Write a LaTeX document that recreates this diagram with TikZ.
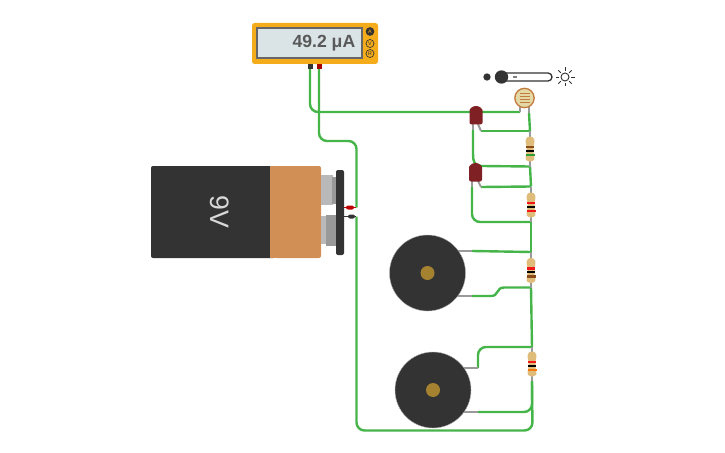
\documentclass[tikz,border=0pt]{standalone}
\usepackage{fontspec}
\setmainfont{Liberation Sans}
\definecolor{wiregreen}{HTML}{45B449}
\definecolor{leadgray}{HTML}{9A9A9A}
\definecolor{bodydark}{HTML}{333333}
\definecolor{battorange}{HTML}{D18E55}
\definecolor{meterorange}{HTML}{F5AC1B}
\definecolor{meterscreen}{HTML}{DAE3E6}
\definecolor{ledred}{HTML}{7F2024}
\definecolor{restan}{HTML}{E0BC7A}
\definecolor{brassdot}{HTML}{A5822F}
\definecolor{ldrface}{HTML}{E3D9A5}
\definecolor{ldrrim}{HTML}{C47A3F}
\definecolor{bandgreen}{HTML}{2E9E3C}
\definecolor{bandbrown}{HTML}{8A4B1C}
\definecolor{bandred}{HTML}{F01818}
\definecolor{bandorange}{HTML}{F57A10}
\tikzset{
	wire/.style={draw=wiregreen,line width=1.8pt,rounded corners=6pt},
	lead/.style={draw=leadgray,line width=1.5pt},
	buzzerbody/.style={circle,fill=bodydark,draw=gray!60,line width=.3pt,minimum size=57pt,inner sep=0pt},
	buzzerdot/.style={circle,fill=brassdot,minimum size=10.5pt,inner sep=0pt},
	knob/.style={circle,inner sep=0pt},
}
% one resistor: centre, then three bands
\newcommand{\resistor}[4]{
	\begin{scope}[shift={(#1)}]
		\fill[restan,rounded corners=2pt] (-3,-12.5) -- (3,-12.5) -- (5,-8) -- (3.5,-4) -- (3.5,5) -- (5,9) -- (3,12.5) -- (-3,12.5) -- (-5,9) -- (-3.5,5) -- (-3.5,-4) -- (-5,-8) -- cycle;
		\fill[#2] (-4,-3.5) rectangle (4,-1);
		\fill[#3] (-4,.5) rectangle (4,2.5);
		\fill[#4] (-4.5,4.5) rectangle (4.5,7);
	\end{scope}
}
\begin{document}
\begin{tikzpicture}[x=.75pt,y=-.75pt]
	\useasboundingbox (0,0) rectangle (725,453);
	\coordinate (mN) at (310,69);% meter black lead
	\coordinate (mP) at (319,69);% meter red lead
	\coordinate (batP) at (356.5,207.5);
	\coordinate (batN) at (356.5,216.5);
	\coordinate (ldrA) at (520,112);
	\coordinate (ldrB) at (529,113);
	\coordinate (ledAa) at (473,130);
	\coordinate (ledAc) at (481,131);
	\coordinate (ledBa) at (472,187);
	\coordinate (ledBc) at (481,187);
	\coordinate (resAt) at (530,131);
	\coordinate (resAb) at (530,166.5);
	\coordinate (resBt) at (531,186.5);
	\coordinate (resBb) at (531,222);
	\coordinate (resCt) at (531,252);
	\coordinate (resCb) at (531,287.5);
	\coordinate (resDt) at (532,347);
	\coordinate (resDb) at (532,381);
	\coordinate (buzAt) at (472,251);
	\coordinate (buzAb) at (472,296);
	\coordinate (buzBt) at (478,368);
	\coordinate (buzBb) at (478,412);

	% wires
	\draw[wire] (mN) |- (ldrA);
	\draw[wire] (mP) -- (319,141) -- (356.5,141) -- (batP);
	\draw[wire] (batN) -- (356.5,430.5) -- (532.5,430.5) -- (resDb);
	\draw[wire] (ledAc) -- (resAt);
	\draw[wire] (ldrB) -- (resAt);
	\draw[wire,sharp corners] (ledAa) -- (473,154) .. controls (473,161) and (474,166) .. (482,166) -- (resAb);
	\draw[wire] (resAb) -- (resBt);
	\draw[wire] (ledBc) -- (resBt);
	\draw[wire] (ledBa) |- (resBb);
	\draw[wire] (resBb) -- (resCt);
	\draw[wire] (buzAt) -- (resCt);
	\draw[wire,sharp corners] (buzAb) -- (491,296) .. controls (499,296) and (496,287.5) .. (504,287.5) -- (resCb);
	\draw[wire] (resCb) -- (resDt);
	\draw[wire] (buzBt) |- (resDt);
	\draw[wire] (buzBb) -| (resDb);

	% resistor leads
	\foreach \a/\b in {resAt/resAb,resBt/resBb,resCt/resCb,resDt/resDb}
		\draw[lead] (\a) -- (\b);
	\resistor{530,149}{bandbrown}{black}{bandgreen}
	\resistor{531,205}{bandred}{black}{bandred}
	\resistor{531,270.5}{bandred}{black}{bandbrown}
	\resistor{532,364}{bandred}{black}{bandorange}

	% meter
	\fill[meterorange,rounded corners=2pt] (252,23) rectangle (378,64);
	\draw[fill=meterscreen,draw=gray!80!black,line width=1.3pt] (257,28) rectangle (362,58);
	\node[anchor=east,text=black!65,font=\bfseries\fontsize{13.2}{14}\selectfont,inner sep=0pt] (readout) at (355.5,43) {49.2 μA};
	\node[knob,fill=bodydark,minimum size=6.5pt,text=meterorange,font=\fontsize{4}{4}\selectfont] (btnA) at (370,31.5) {A};
	\node[knob,draw=bodydark,line width=.5pt,minimum size=6pt,text=bodydark,font=\fontsize{4}{4}\selectfont] (btnV) at (370,43.5) {V};
	\node[knob,draw=bodydark,line width=.5pt,minimum size=6pt,text=bodydark,font=\fontsize{4}{4}\selectfont] (btnR) at (370,53.5) {R};
	\fill[bodydark] (308,64) rectangle (313,69);
	\fill[red!65!black] (317,64) rectangle (322,69);

	% battery
	\fill[bodydark,rounded corners=1.5pt] (151,166) rectangle (275,258);
	\fill[battorange,rounded corners=1.5pt] (275,166) rectangle (321,258);
	\fill[battorange] (270,166) rectangle (276,258);
	\fill[gray!55] (321,175) rectangle (333,205);
	\fill[gray!80] (332,177) rectangle (336,204);
	\fill[gray!55] (321,216) rectangle (327,244);
	\fill[gray!80] (326,215) rectangle (336,246);
	\fill[bodydark,rounded corners=1.5pt] (336,170) rectangle (344,255);
	\node[rotate=-90,text=gray!30,font=\fontsize{20}{20}\selectfont,inner sep=0pt] (volts) at (220,212) {9V};
	\draw[red!75!black,line width=.8pt] (344,207.5) -- (356,207.5);
	\fill[red!75!black,rounded corners=1.5pt] (346,205.5) rectangle (354,209.5);
	\draw[bodydark,line width=.8pt] (344,216.5) -- (356,216.5);
	\fill[bodydark,rounded corners=1.5pt] (348,214.5) rectangle (355,218.5);

	% slider and sun
	\node[knob,fill=bodydark,minimum size=5.5pt] (dimdot) at (487,77) {};
	\draw[fill=white,draw=bodydark,line width=1pt,rounded corners=3pt] (501,73) rectangle (552,81);
	\node[knob,fill=bodydark,minimum size=10pt] (sliderknob) at (501.5,77) {};
	\draw[gray,line width=.8pt] (513,77) -- (517,77);
	\node[knob,draw=bodydark,line width=.7pt,minimum size=6pt] (sun) at (565,77) {};
	\foreach \ang in {0,45,...,315}
		\draw[bodydark,line width=.7pt] (sun)++(\ang:6) -- ++(\ang:3.5);

	% ldr
	\draw[lead,line width=1pt] (ldrA) -- (520,104);
	\draw[lead,line width=1pt] (ldrB) -- (529,104);
	\node[knob,fill=ldrface,draw=ldrrim,line width=1pt,minimum size=14.5pt] (ldr) at (524.5,98) {};
	\foreach \yy in {93.5,96.5,99.5,102.5}
		\draw[ldrrim,line width=1pt] (519.5,\yy) -- (529.5,\yy);

	% leds
	\draw[lead] (ledAa) -- (473,123);
	\draw[lead] (ledAc) -- (478,124);
	\draw[lead] (ledBa) -- (472,180);
	\draw[lead] (ledBc) -- (478,181);
	\foreach \xx/\yy in {476/106,475.5/163}
		\fill[ledred,rounded corners=1.5pt] (\xx-6.5,\yy+18.5) -- (\xx-6.5,\yy+6.5) arc[start angle=180,end angle=0,radius=4.9pt] -- (\xx+6.5,\yy+18.5) -- cycle;

	% buzzers
	\draw[lead] (buzAt) -- (455,251);
	\draw[lead] (buzAb) -- (455,296);
	\draw[lead] (buzBt) -- (460,368);
	\draw[lead] (buzBb) -- (460,412);
	\node[buzzerbody] (buzA) at (427.5,273) {};
	\node[buzzerdot] (dotA) at (buzA) {};
	\node[buzzerbody] (buzB) at (433,390) {};
	\node[buzzerdot] (dotB) at (buzB) {};
\end{tikzpicture}
\end{document}
